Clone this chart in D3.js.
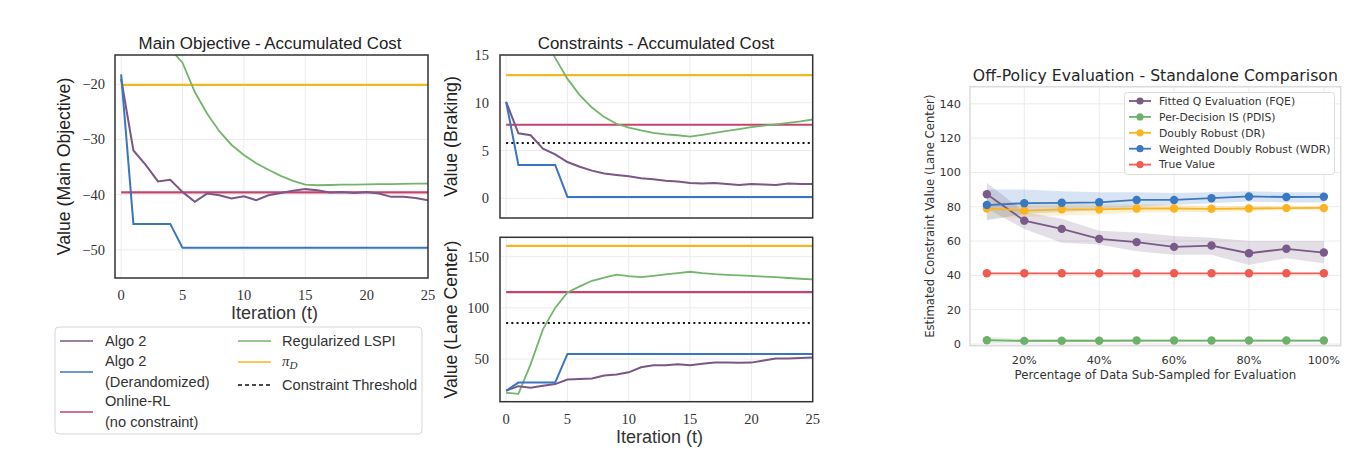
<!DOCTYPE html>
<html><head><meta charset="utf-8">
<script src="https://d3js.org/d3.v7.min.js"></script>
<style>body{margin:0;background:#fff}</style>
</head><body>
<script>
// ---------- data ----------
const iters = d3.range(0, 26);
// Main objective
const mainAlgo2  = [-19,-32,-34.6,-37.6,-37.3,-39.5,-41.3,-39.8,-40.1,-40.7,-40.3,-41.0,-40.1,-39.7,-39.3,-39.0,-39.2,-39.6,-39.5,-39.7,-39.5,-39.8,-40.4,-40.4,-40.6,-41.0];
const mainDerand = [-18.2,-45.3,-45.3,-45.3,-45.3,-49.6,-49.6,-49.6,-49.6,-49.6,-49.6,-49.6,-49.6,-49.6,-49.6,-49.6,-49.6,-49.6,-49.6,-49.6,-49.6,-49.6,-49.6,-49.6,-49.6,-49.6];
const mainLSPI   = [-2,-5,-8,-11,-13.6,-16.1,-21.4,-25.3,-28.5,-31.0,-32.8,-34.3,-35.5,-36.6,-37.5,-38.2,-38.3,-38.25,-38.2,-38.2,-38.15,-38.1,-38.1,-38.05,-38.0,-38.0];
const mainOnline = -39.6;
const mainPiD    = -20.1;
// Braking constraint
const brkAlgo2  = [10.1,6.8,6.6,5.2,4.6,3.8,3.3,2.9,2.6,2.45,2.3,2.1,2.0,1.85,1.75,1.6,1.55,1.6,1.5,1.4,1.5,1.45,1.4,1.55,1.5,1.5];
const brkDerand = [10.1,3.5,3.5,3.5,3.5,0.15,0.15,0.15,0.15,0.15,0.15,0.15,0.15,0.15,0.15,0.15,0.15,0.15,0.15,0.15,0.15,0.15,0.15,0.15,0.15,0.15];
const brkLSPI   = [30,25,21,17.2,14.7,12.5,10.8,9.5,8.5,7.8,7.4,7.1,6.85,6.7,6.6,6.45,6.65,6.85,7.05,7.25,7.45,7.6,7.75,7.9,8.05,8.25];
const brkOnline = 7.7;
const brkPiD    = 12.9;
const brkThresh = 5.8;
// Lane center constraint
const laneAlgo2  = [19,23.5,22,24,25.5,30,30.5,31,34,35,37,42,44,44,45,44,45.5,46.5,46.5,46.3,46.5,48.5,50.5,50.5,51,51.5];
const laneDerand = [19,27,27,27,27,55,55,55,55,55,55,55,55,55,55,55,55,55,55,55,55,55,55,55,55,55];
const laneLSPI   = [17,16,45,79,100,115,121,126.5,129.5,132.5,131,130,131.3,132.7,134,135.3,134,133,132.3,131.7,131.2,130.5,130,129.2,128.5,127.8];
const laneOnline = 115.5;
const lanePiD    = 160.7;
const laneThresh = 85.3;
// Off-policy evaluation
const pct     = [10,20,30,40,50,60,70,80,90,100];
const fqe     = [87.3,71.9,67.1,61.3,59.4,56.6,57.4,52.9,55.5,53.3];
const fqeLo   = [79,67,59,58,54,52,52,46,50,47];
const fqeHi   = [94,77,73,66,65,63,62,60,60,60];
const pdis    = [2.2,1.8,1.9,1.9,2.0,2.0,2.0,2.0,2.0,2.0];
const pdisLo  = [0.5,1,1,1,1.1,1.1,1.1,1.1,1.1,1.1];
const pdisHi  = [4,3,2.8,2.7,2.7,2.6,2.6,2.6,2.6,2.6];
const dr      = [79,77.8,78.5,78.5,79,79,78.8,79,79.2,79.3];
const drLo    = [73,74,75,75.5,76.5,77,77,77.5,78,78];
const drHi    = [84,82,82,81.5,81.5,81,80.5,80.5,80.5,80.5];
const wdr     = [81,82.1,82.3,82.6,84,84,85,86,85.7,85.8];
const wdrLo   = [72,76,77,78,80,81,82,83,82.5,82.5];
const wdrHi   = [90,90,89,88.5,88.5,88,88.5,89,88.5,88.5];
const trueVal = [41.2,41.2,41.2,41.2,41.2,41.2,41.2,41.2,41.2,41.2];
const iterTicks = [0,5,10,15,20,25];
const mainTicks = [-50,-40,-30,-20];
const brkTicks  = [0,5,10,15];
const laneTicks = [50,100,150];
const pctTicks  = [20,40,60,80,100];
const opeTicks  = [0,20,40,60,80,100,120,140];

// ---------- styles ----------
const C = {algo2:"#7b5788", derand:"#3b74c0", online:"#c4446b", lspi:"#74b46c", piD:"#f6b621"};
const O = {fqe:"#7a5a88", pdis:"#6cb06a", dr:"#fbb420", wdr:"#3a78c2", tv:"#f05a50"};
const sans = "'Liberation Sans', Arial, sans-serif";
const serif = "'Liberation Serif', 'DejaVu Serif', serif";
const dj = "'DejaVu Sans', sans-serif";

const svg = d3.select("body").append("svg").attr("width",1363).attr("height",454);
let clipId = 0;

function leftPanel(o){
  const g = svg.append("g");
  const x = d3.scaleLinear().domain([-0.5,25]).range([o.x0,o.x1]);
  const y = d3.scaleLinear().domain(o.yd).range([o.y1,o.y0]);
  g.selectAll(".gx").data(iterTicks).enter().append("line")
    .attr("x1",d=>x(d)).attr("x2",d=>x(d)).attr("y1",o.y0).attr("y2",o.y1)
    .attr("stroke","#ececec").attr("stroke-width",1);
  g.selectAll(".gy").data(o.ticks).enter().append("line")
    .attr("x1",o.x0).attr("x2",o.x1).attr("y1",d=>y(d)).attr("y2",d=>y(d))
    .attr("stroke","#ececec").attr("stroke-width",1);
  const id = "clip"+(clipId++);
  svg.append("clipPath").attr("id",id).append("rect")
    .attr("x",o.x0).attr("y",o.y0).attr("width",o.x1-o.x0).attr("height",o.y1-o.y0);
  const pg = g.append("g").attr("clip-path",`url(#${id})`);
  const line = d3.line().x((d,i)=>x(iters[i])).y(d=>y(d));
  const hline = (v,c,dash)=>pg.append("line").attr("x1",x(0)).attr("x2",x(25))
      .attr("y1",y(v)).attr("y2",y(v)).attr("stroke",c).attr("stroke-width",dash?2:2.2)
      .attr("stroke-dasharray",dash||null);
  hline(o.piD,C.piD);
  hline(o.online,C.online);
  if(o.thresh!==undefined) hline(o.thresh,"#111","2,3.2");
  pg.append("path").datum(o.lspi).attr("d",line).attr("fill","none").attr("stroke",C.lspi).attr("stroke-width",1.8);
  pg.append("path").datum(o.algo2).attr("d",line).attr("fill","none").attr("stroke",C.algo2).attr("stroke-width",2);
  pg.append("path").datum(o.derand).attr("d",line).attr("fill","none").attr("stroke",C.derand).attr("stroke-width",2);
  g.append("rect").attr("x",o.x0).attr("y",o.y0).attr("width",o.x1-o.x0).attr("height",o.y1-o.y0)
    .attr("fill","none").attr("stroke","#333").attr("stroke-width",1.5);
  g.selectAll(".yt").data(o.ticks).enter().append("text")
    .attr("x",o.ytx).attr("y",d=>y(d)+5).attr("text-anchor","end")
    .attr("font-family",serif).attr("font-size",14.5).attr("fill","#333")
    .text(d=>d<0?"\u2212"+Math.abs(d):d);
  if(o.xlabels){
    g.selectAll(".xt").data(iterTicks).enter().append("text")
      .attr("x",d=>x(d)).attr("y",o.y1+22).attr("text-anchor","middle")
      .attr("font-family",serif).attr("font-size",14.5).attr("fill","#333").text(d=>d);
    g.append("text").attr("x",(x(0)+x(25))/2).attr("y",o.y1+41).attr("text-anchor","middle")
      .attr("font-family",sans).attr("font-size",18).attr("fill","#333").text("Iteration (t)");
  }
  g.append("text").attr("transform",`translate(${o.ylx},${(o.y0+o.y1)/2}) rotate(-90)`)
    .attr("text-anchor","middle").attr("font-family",sans).attr("font-size",17.7).attr("fill","#222").text(o.ylabel);
  if(o.title) g.append("text").attr("x",o.tx).attr("y",o.y0-6).attr("text-anchor","middle")
    .attr("font-family",sans).attr("font-size",16.9).attr("fill","#222").text(o.title);
}

leftPanel({x0:115,x1:428,y0:55,y1:278,yd:[-55.1,-14.7],ticks:mainTicks,ytx:105,ylx:70,
  algo2:mainAlgo2,derand:mainDerand,lspi:mainLSPI,online:mainOnline,piD:mainPiD,
  xlabels:true,ylabel:"Value (Main Objective)",title:"Main Objective - Accumulated Cost",tx:270});
leftPanel({x0:500,x1:812.7,y0:55,y1:218,yd:[-2.06,15],ticks:brkTicks,ytx:489,ylx:457,
  algo2:brkAlgo2,derand:brkDerand,lspi:brkLSPI,online:brkOnline,piD:brkPiD,thresh:brkThresh,
  xlabels:false,ylabel:"Value (Braking)",title:"Constraints - Accumulated Cost",tx:656});
leftPanel({x0:500,x1:812.7,y0:237.3,y1:401.7,yd:[8.3,169],ticks:laneTicks,ytx:489,ylx:457,
  algo2:laneAlgo2,derand:laneDerand,lspi:laneLSPI,online:laneOnline,piD:lanePiD,thresh:laneThresh,
  xlabels:true,ylabel:"Value (Lane Center)"});

// left legend
(function(){
  const g = svg.append("g");
  g.append("rect").attr("x",55).attr("y",327).attr("width",367).attr("height",107).attr("rx",4)
    .attr("fill","#fff").attr("stroke","#d6d6d6").attr("stroke-width",1);
  const items = [
    {c:C.algo2, ly:341, lines:[["Algo 2",346]], col:0},
    {c:C.derand, ly:372, lines:[["Algo 2",365.5],["(Derandomized)",386.5]], col:0},
    {c:C.online, ly:412, lines:[["Online-RL",405.5],["(no constraint)",427]], col:0},
    {c:C.lspi, ly:341, lines:[["Regularized LSPI",346]], col:1},
    {c:C.piD, ly:362, lines:[], col:1, pi:true},
    {c:"#111", ly:385, lines:[["Constraint Threshold",390]], col:1, dash:"4,3"}
  ];
  items.forEach(it=>{
    const lx = it.col? 238:60, tx = it.col? 282:105;
    g.append("line").attr("x1",lx).attr("x2",lx+33).attr("y1",it.ly).attr("y2",it.ly)
      .attr("stroke",it.c).attr("stroke-width",1.6).attr("stroke-dasharray",it.dash||null);
    it.lines.forEach(([t,yy])=>g.append("text").attr("x",tx).attr("y",yy)
      .attr("font-family",sans).attr("font-size",14.6).attr("fill","#333").text(t));
    if(it.pi){
      const t = g.append("text").attr("x",tx).attr("y",it.ly+4).attr("font-family",serif)
        .attr("font-style","italic").attr("font-size",15).attr("fill","#333");
      t.append("tspan").text("\u03c0");
      t.append("tspan").attr("dy",3).attr("font-size",11).text("D");
    }
  });
})();

// ---------- OPE panel ----------
(function(){
  const x0=970,x1=1340.7,y0=86.7,y1=345.7;
  const g = svg.append("g");
  const x = d3.scaleLinear().domain([5.5,104.5]).range([x0,x1]);
  const y = d3.scaleLinear().domain([-1,150]).range([y1,y0]);
  g.selectAll(".gx").data(pctTicks).enter().append("line")
    .attr("x1",d=>x(d)).attr("x2",d=>x(d)).attr("y1",y0).attr("y2",y1).attr("stroke","#ebebeb");
  g.selectAll(".gy").data(opeTicks).enter().append("line")
    .attr("x1",x0).attr("x2",x1).attr("y1",d=>y(d)).attr("y2",d=>y(d)).attr("stroke","#ebebeb");
  const area = (lo,hi)=>d3.area().x((d,i)=>x(pct[i])).y0((d,i)=>y(lo[i])).y1((d,i)=>y(hi[i]));
  const series = [
    {v:fqe,lo:fqeLo,hi:fqeHi,c:O.fqe},
    {v:pdis,lo:pdisLo,hi:pdisHi,c:O.pdis},
    {v:dr,lo:drLo,hi:drHi,c:O.dr},
    {v:wdr,lo:wdrLo,hi:wdrHi,c:O.wdr},
    {v:trueVal,c:O.tv}
  ];
  series.forEach(s=>{ if(s.lo) g.append("path").datum(pct).attr("d",area(s.lo,s.hi))
      .attr("fill",s.c).attr("fill-opacity",0.2).attr("stroke","none"); });
  const line = d3.line().x((d,i)=>x(pct[i])).y(d=>y(d));
  series.forEach(s=>{
    g.append("path").datum(s.v).attr("d",line).attr("fill","none").attr("stroke",s.c).attr("stroke-width",1.8);
    g.selectAll(null).data(s.v).enter().append("circle")
      .attr("cx",(d,i)=>x(pct[i])).attr("cy",d=>y(d)).attr("r",4.2).attr("fill",s.c);
  });
  g.append("rect").attr("x",x0).attr("y",y0).attr("width",x1-x0).attr("height",y1-y0)
    .attr("fill","none").attr("stroke","#dcdcdc").attr("stroke-width",1.6);
  g.selectAll(".yt").data(opeTicks).enter().append("text")
    .attr("x",961).attr("y",d=>y(d)+4).attr("text-anchor","end")
    .attr("font-family",dj).attr("font-size",11.3).attr("fill","#333").text(d=>d);
  g.selectAll(".xt").data(pctTicks).enter().append("text")
    .attr("x",d=>x(d)).attr("y",363.5).attr("text-anchor","middle")
    .attr("font-family",dj).attr("font-size",11.3).attr("fill","#333").text(d=>d+"%");
  g.append("text").attr("x",(x0+x1)/2).attr("y",378.5).attr("text-anchor","middle")
    .attr("font-family",dj).attr("font-size",11.8).attr("fill","#333").text("Percentage of Data Sub-Sampled for Evaluation");
  g.append("text").attr("transform",`translate(934,${(y0+y1)/2}) rotate(-90)`).attr("text-anchor","middle")
    .attr("font-family",dj).attr("font-size",11.7).attr("fill","#333").text("Estimated Constraint Value (Lane Center)");
  g.append("text").attr("x",(x0+x1)/2).attr("y",80.5).attr("text-anchor","middle")
    .attr("font-family",dj).attr("font-size",15.7).attr("fill","#262626").text("Off-Policy Evaluation - Standalone Comparison");
  const lg = g.append("g");
  lg.append("rect").attr("x",1124.5).attr("y",92.5).attr("width",210).attr("height",82).attr("rx",3)
    .attr("fill","#fff").attr("fill-opacity",0.85).attr("stroke","#dcdcdc");
  const names = ["Fitted Q Evaluation (FQE)","Per-Decision IS (PDIS)","Doubly Robust (DR)","Weighted Doubly Robust (WDR)","True Value"];
  names.forEach((n,i)=>{
    const yy = 101+i*15.9;
    lg.append("line").attr("x1",1129).attr("x2",1151).attr("y1",yy).attr("y2",yy).attr("stroke",series[i].c).attr("stroke-width",1.8);
    lg.append("circle").attr("cx",1140).attr("cy",yy).attr("r",3.6).attr("fill",series[i].c);
    lg.append("text").attr("x",1159).attr("y",yy+3.8).attr("font-family",dj).attr("font-size",10.8).attr("fill","#333").text(n);
  });
})();
</script>
</body></html>
